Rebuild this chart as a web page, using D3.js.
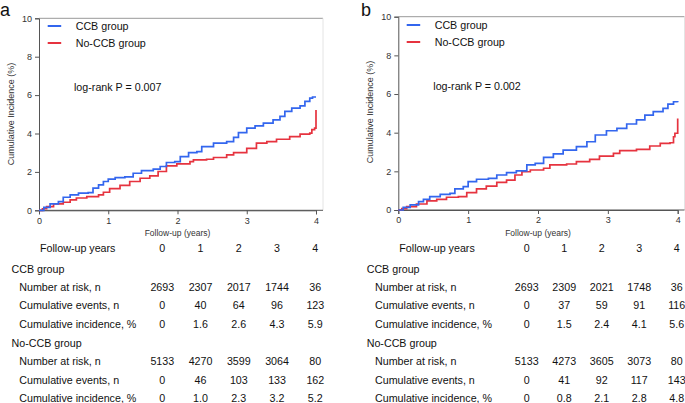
<!DOCTYPE html>
<html>
<head>
<meta charset="utf-8">
<script src="https://cdn.jsdelivr.net/npm/d3@7"></script>
<style>
  body { margin: 0; background: #fff; }
  svg { display: block; font-family: "Liberation Sans", Arial, sans-serif; }
</style>
</head>
<body>
<svg id="chart" width="685" height="403"></svg>
<script>
// ---- data ----
const yTicks = [0, 2, 4, 6, 8, 10];
const xTicks = [0, 1, 2, 3, 4];
const followYears = ["0", "1", "2", "3", "4"];
const rowLabels = ["Number at risk, n", "Cumulative events, n", "Cumulative incidence, %"];
const groupNames = ["CCB group", "No-CCB group"];

// panel a curves: [years, %]
const aCCB = [[0,0],[0.07,0.15],[0.16,0.33],[0.28,0.45],[0.35,0.68],[0.45,0.8],[0.57,0.89],[0.71,0.92],
  [0.78,1.15],[0.86,1.32],[0.93,1.5],[1.0,1.62],[1.1,1.7],[1.24,1.74],[1.36,1.93],[1.48,2.07],[1.65,2.14],
  [1.75,2.28],[1.84,2.49],[1.96,2.54],[2.04,2.8],[2.16,3.0],[2.28,3.06],[2.35,3.32],[2.52,3.5],[2.71,3.58],
  [2.81,3.8],[2.88,4.05],[3.0,4.28],[3.12,4.4],[3.24,4.54],[3.38,4.71],[3.48,4.89],[3.55,5.15],[3.65,5.32],
  [3.77,5.44],[3.84,5.67],[3.91,5.84],[3.95,5.9],[4.0,5.9]];
const aNoCCB = [[0,0],[0.05,0.08],[0.11,0.19],[0.21,0.33],[0.35,0.42],[0.45,0.54],[0.54,0.64],[0.69,0.71],
  [0.86,0.8],[0.93,0.94],[1.02,1.13],[1.17,1.3],[1.31,1.5],[1.46,1.67],[1.6,1.79],[1.72,2.02],[1.84,2.31],
  [1.99,2.42],[2.18,2.54],[2.23,2.63],[2.42,2.66],[2.52,2.75],[2.71,2.89],[2.81,3.0],[3.0,3.23],[3.14,3.5],
  [3.29,3.58],[3.43,3.7],[3.62,3.84],[3.77,3.97],[3.91,4.02],[3.94,4.2],[3.98,4.28],[4.0,5.23]];

// panel b curves
const bCCB = [[0,0],[0.07,0.14],[0.17,0.26],[0.29,0.43],[0.36,0.55],[0.45,0.69],[0.6,0.81],[0.74,0.86],
  [0.81,1.09],[0.93,1.21],[1.0,1.47],[1.12,1.59],[1.29,1.64],[1.41,1.81],[1.55,1.93],[1.69,2.02],[1.84,2.33],
  [1.96,2.41],[2.08,2.72],[2.22,2.9],[2.36,3.1],[2.55,3.28],[2.7,3.53],[2.82,3.88],[2.98,4.1],[3.13,4.22],
  [3.27,4.45],[3.41,4.66],[3.53,4.91],[3.65,5.09],[3.79,5.26],[3.86,5.48],[3.94,5.6],[4.0,5.57]];
const bNoCCB = [[0,0],[0.05,0.07],[0.12,0.17],[0.26,0.31],[0.41,0.47],[0.55,0.55],[0.69,0.66],[0.86,0.69],
  [0.98,0.9],[1.12,1.09],[1.26,1.24],[1.41,1.43],[1.55,1.55],[1.67,1.81],[1.77,1.98],[1.89,2.07],[2.08,2.16],
  [2.17,2.33],[2.41,2.38],[2.55,2.5],[2.74,2.62],[2.88,2.79],[3.08,2.93],[3.17,3.07],[3.41,3.14],[3.6,3.31],
  [3.75,3.45],[3.89,3.48],[3.94,3.79],[3.96,3.97],[4.0,4.74]];

// risk tables
const aCCBTable = [["2693","2307","2017","1744","36"],["0","40","64","96","123"],["0","1.6","2.6","4.3","5.9"]];
const aNoCCBTable = [["5133","4270","3599","3064","80"],["0","46","103","133","162"],["0","1.0","2.3","3.2","5.2"]];
const bCCBTable = [["2693","2309","2021","1748","36"],["0","37","59","91","116"],["0","1.5","2.4","4.1","5.6"]];
const bNoCCBTable = [["5133","4273","3605","3073","80"],["0","41","92","117","143"],["0","0.8","2.1","2.8","4.8"]];

const pValueA = "log-rank P = 0.007";
const pValueB = "log-rank P = 0.002";

const BLUE = "#3366ee", RED = "#e6333f";
const svg = d3.select("#chart");

function drawPanel(o) {
  const g = svg.append("g");
  const x = d3.scaleLinear().domain([0, 4]).range([o.x0, o.x4]);
  const y = d3.scaleLinear().domain([0, 10]).range([o.y0, o.y10]);

  // light frame top/right
  g.append("line").attr("x1", o.x0).attr("x2", o.xr).attr("y1", o.y10).attr("y2", o.y10)
    .attr("stroke", "#999").attr("stroke-width", 1);
  g.append("line").attr("x1", o.xr).attr("x2", o.xr).attr("y1", o.y10).attr("y2", o.y0)
    .attr("stroke", "#e4e4e4").attr("stroke-width", 1);
  g.append("line").attr("x1", o.x0).attr("x2", o.xr).attr("y1", o.y0).attr("y2", o.y0)
    .attr("stroke", "#555").attr("stroke-width", 1);

  const yAxis = g.append("g").attr("transform", `translate(${o.x0},0)`)
    .call(d3.axisLeft(y).tickValues(yTicks).tickFormat(d3.format("d")).tickSize(4).tickPadding(3));
  const xAxis = g.append("g").attr("transform", `translate(0,${o.y0})`)
    .call(d3.axisBottom(x).tickValues(xTicks).tickFormat(d3.format("d")).tickSize(4).tickPadding(3));
  [yAxis, xAxis].forEach(a => {
    a.select(".domain").attr("stroke", "#555");
    a.selectAll(".tick line").attr("stroke", "#555");
    a.selectAll("text").attr("font-size", 9).attr("fill", "#333")
      .attr("font-family", "Liberation Sans, Arial, sans-serif");
  });

  g.append("text").attr("transform", `translate(${o.yLabX},${o.yLabY}) rotate(-90)`)
    .attr("text-anchor", "middle").attr("dominant-baseline", "central")
    .attr("font-size", 9).attr("fill", "#333").text("Cumulative Incidence (%)");
  g.append("text").attr("x", (o.x0 + o.x4) / 2).attr("y", 232.5)
    .attr("text-anchor", "middle").attr("dominant-baseline", "central")
    .attr("font-size", 8.5).attr("fill", "#333").text("Follow-up (years)");

  const line = d3.line().x(d => x(d[0])).y(d => y(d[1])).curve(d3.curveStepAfter);
  g.append("path").datum(o.noccb).attr("d", line).attr("fill", "none")
    .attr("stroke", RED).attr("stroke-width", 1.7);
  g.append("path").datum(o.ccb).attr("d", line).attr("fill", "none")
    .attr("stroke", BLUE).attr("stroke-width", 1.7);

  // legend
  [[BLUE, groupNames[0], o.legY], [RED, groupNames[1], o.legY + 17]].forEach(([c, t, ly]) => {
    g.append("line").attr("x1", o.legX).attr("x2", o.legX + 13.5).attr("y1", ly).attr("y2", ly)
      .attr("stroke", c).attr("stroke-width", 2);
    g.append("text").attr("x", o.legX + 28).attr("y", ly).attr("dominant-baseline", "central")
      .attr("font-size", 10.7).attr("fill", "#111").text(t);
  });
  g.append("text").attr("x", o.pX).attr("y", o.pY).attr("dominant-baseline", "central")
    .attr("font-size", 10.7).attr("fill", "#111").text(o.pText);

  g.append("text").attr("x", o.letterX).attr("y", 15.5).attr("font-size", 18).attr("fill", "#111").text(o.letter);

  // risk table
  const col = d3.scaleLinear().domain([0, 4]).range([o.c0, o.c4]);
  const rowY = [247.5, 268.5, 286.7, 305.3, 324.2, 342.8, 361.3, 379.7, 398.3];
  const fs = 10.7;
  g.append("text").attr("x", o.hdrX).attr("y", rowY[0]).attr("dominant-baseline", "central")
    .attr("font-size", fs).attr("fill", "#111").text("Follow-up years");
  g.selectAll(null).data(followYears).join("text")
    .attr("x", (d, i) => col(i)).attr("y", rowY[0]).attr("text-anchor", "middle")
    .attr("dominant-baseline", "central").attr("font-size", fs).attr("fill", "#111").text(d => d);

  [[groupNames[0], o.tCCB, 1], [groupNames[1], o.tNo, 5]].forEach(([name, tbl, r0]) => {
    g.append("text").attr("x", o.grpX).attr("y", rowY[r0]).attr("dominant-baseline", "central")
      .attr("font-size", fs).attr("fill", "#111").text(name);
    tbl.forEach((vals, j) => {
      const yy = rowY[r0 + 1 + j];
      g.append("text").attr("x", o.rowX).attr("y", yy).attr("dominant-baseline", "central")
        .attr("font-size", fs).attr("fill", "#111").text(rowLabels[j]);
      g.selectAll(null).data(vals).join("text")
        .attr("x", (d, i) => col(i)).attr("y", yy).attr("text-anchor", "middle")
        .attr("dominant-baseline", "central").attr("font-size", fs).attr("fill", "#111").text(d => d);
    });
  });
}

drawPanel({ letter: "a", letterX: 0, x0: 39, x4: 316, xr: 323, y0: 210.3, y10: 18.3,
  yLabX: 11, yLabY: 114, legX: 47.7, legY: 26, pX: 74, pY: 86.7, pText: pValueA,
  ccb: aCCB, noccb: aNoCCB, c0: 162.3, c4: 315.3, hdrX: 40, grpX: 11.5, rowX: 19.3,
  tCCB: aCCBTable, tNo: aNoCCBTable });
drawPanel({ letter: "b", letterX: 361, x0: 398.3, x4: 677.7, xr: 684.5, y0: 210, y10: 16.7,
  yLabX: 370, yLabY: 112, legX: 406.7, legY: 25, pX: 433.3, pY: 85.7, pText: pValueB,
  ccb: bCCB, noccb: bNoCCB, c0: 526.7, c4: 676.7, hdrX: 399.3, grpX: 366.7, rowX: 375,
  tCCB: bCCBTable, tNo: bNoCCBTable });
</script>
</body>
</html>
